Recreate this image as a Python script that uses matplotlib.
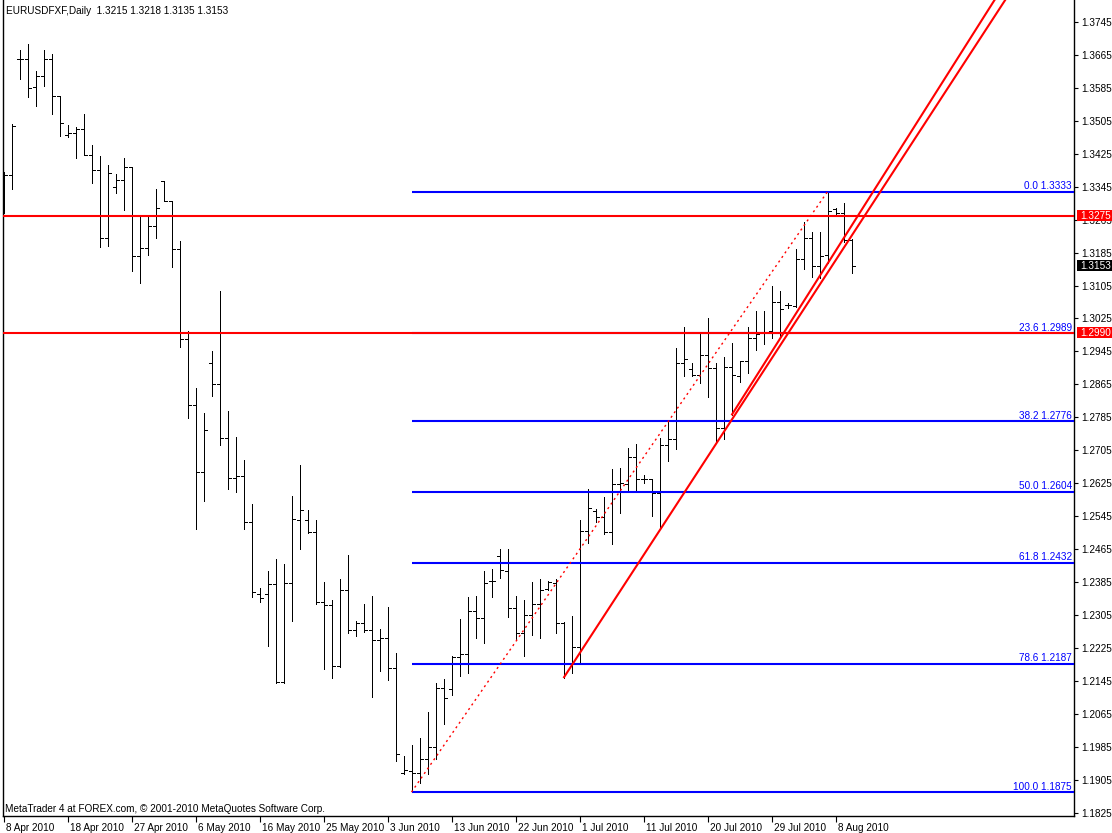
import numpy as np
import matplotlib.pyplot as plt
import matplotlib.transforms as mtransforms
from matplotlib.patches import Rectangle

plt.rcParams['font.family'] = ['Liberation Sans', 'DejaVu Sans']

# EURUSD daily bars, 8 Apr 2010 .. 10 Aug 2010 (Sunday sessions included)
opens = [1.3349, 1.3373, 1.3655, 1.3655, 1.3587, 1.3614, 1.3655, 1.3565, 1.3470, 1.3475,
         1.3485, 1.3422, 1.3385, 1.3220, 1.3344, 1.3361, 1.3393, 1.3176, 1.3196, 1.3249,
         1.3359, 1.3310, 1.3193, 1.2975, 1.2815, 1.2652, 1.2917, 1.2866, 1.2735, 1.2637,
         1.2642, 1.2531, 1.2356, 1.2356, 1.2380, 1.2142, 1.2383, 1.2535, 1.2535, 1.2506,
         1.2336, 1.2329, 1.2181, 1.2366, 1.2268, 1.2285, 1.2268, 1.2244, 1.2249, 1.2176,
         1.1921, 1.1926, 1.1921, 1.1955, 1.1984, 1.2128, 1.2125, 1.2203, 1.2210, 1.2315,
         1.2298, 1.2387, 1.2448, 1.2412, 1.2322, 1.2261, 1.2305, 1.2332, 1.2368, 1.2383,
         1.2285, 1.2186, 1.2227, 1.2509, 1.2557, 1.2543, 1.2506, 1.2623, 1.2623, 1.2688,
         1.2635, 1.2635, 1.2601, 1.2718, 1.2732, 1.2917, 1.2902, 1.2888, 1.2936, 1.2905,
         1.2759, 1.2907, 1.2885, 1.2922, 1.2977, 1.2990, 1.2994, 1.3065, 1.3058, 1.3055,
         1.3169, 1.3220, 1.3152, 1.3179, 1.3291, 1.3281, 1.3215]
highs = [1.3380, 1.3497, 1.3677, 1.3691, 1.3626, 1.3677, 1.3667, 1.3565, 1.3495, 1.3490,
         1.3521, 1.3446, 1.3419, 1.3397, 1.3376, 1.3414, 1.3393, 1.3274, 1.3271, 1.3339,
         1.3359, 1.3310, 1.3213, 1.2994, 1.2856, 1.2795, 1.2946, 1.3092, 1.2800, 1.2737,
         1.2681, 1.2574, 1.2370, 1.2412, 1.2441, 1.2429, 1.2594, 1.2669, 1.2560, 1.2535,
         1.2385, 1.2341, 1.2392, 1.2450, 1.2290, 1.2332, 1.2351, 1.2271, 1.2324, 1.2213,
         1.1962, 1.1989, 1.2006, 1.2069, 1.2140, 1.2149, 1.2205, 1.2295, 1.2349, 1.2351,
         1.2412, 1.2417, 1.2465, 1.2465, 1.2351, 1.2341, 1.2385, 1.2392, 1.2387, 1.2392,
         1.2288, 1.2302, 1.2535, 1.2611, 1.2562, 1.2591, 1.2659, 1.2662, 1.2710, 1.2720,
         1.2645, 1.2635, 1.2735, 1.2776, 1.2953, 1.3004, 1.2917, 1.2992, 1.3026, 1.2917,
         1.2931, 1.2965, 1.2922, 1.3004, 1.3043, 1.3043, 1.3104, 1.3092, 1.3062, 1.3193,
         1.3259, 1.3235, 1.3235, 1.3333, 1.3293, 1.3305, 1.3218]
lows = [1.3281, 1.3339, 1.3606, 1.3563, 1.3541, 1.3589, 1.3521, 1.3468, 1.3465, 1.3414,
        1.3422, 1.3354, 1.3198, 1.3201, 1.3329, 1.3288, 1.3140, 1.3111, 1.3179, 1.3220,
        1.3310, 1.3150, 1.2956, 1.2783, 1.2514, 1.2582, 1.2837, 1.2718, 1.2611, 1.2603,
        1.2514, 1.2349, 1.2336, 1.2230, 1.2140, 1.2140, 1.2290, 1.2465, 1.2504, 1.2332,
        1.2174, 1.2152, 1.2179, 1.2261, 1.2254, 1.2264, 1.2106, 1.2169, 1.2147, 1.1950,
        1.1919, 1.1875, 1.1897, 1.1919, 1.1955, 1.2040, 1.2111, 1.2157, 1.2164, 1.2249,
        1.2237, 1.2349, 1.2395, 1.2300, 1.2247, 1.2205, 1.2256, 1.2249, 1.2366, 1.2261,
        1.2152, 1.2164, 1.2188, 1.2480, 1.2531, 1.2501, 1.2477, 1.2552, 1.2606, 1.2606,
        1.2625, 1.2545, 1.2518, 1.2679, 1.2708, 1.2885, 1.2885, 1.2868, 1.2834, 1.2727,
        1.2732, 1.2790, 1.2871, 1.2892, 1.2948, 1.2963, 1.2977, 1.2977, 1.3050, 1.3053,
        1.3145, 1.3125, 1.3123, 1.3159, 1.3278, 1.3210, 1.3135]
closes = [1.3373, 1.3492, 1.3655, 1.3584, 1.3614, 1.3655, 1.3565, 1.3499, 1.3475, 1.3485,
          1.3422, 1.3385, 1.3220, 1.3378, 1.3361, 1.3393, 1.3176, 1.3196, 1.3249, 1.3293,
          1.3310, 1.3193, 1.2975, 1.2815, 1.2652, 1.2754, 1.2866, 1.2735, 1.2637, 1.2642,
          1.2531, 1.2361, 1.2346, 1.2380, 1.2142, 1.2383, 1.2538, 1.2560, 1.2506, 1.2336,
          1.2329, 1.2181, 1.2366, 1.2268, 1.2285, 1.2268, 1.2244, 1.2249, 1.2176, 1.1967,
          1.1928, 1.1921, 1.1955, 1.1984, 1.2128, 1.2103, 1.2203, 1.2210, 1.2315, 1.2298,
          1.2383, 1.2387, 1.2414, 1.2322, 1.2261, 1.2305, 1.2332, 1.2366, 1.2385, 1.2285,
          1.2186, 1.2227, 1.2509, 1.2565, 1.2543, 1.2506, 1.2623, 1.2625, 1.2688, 1.2635,
          1.2635, 1.2601, 1.2718, 1.2732, 1.2917, 1.2926, 1.2888, 1.2936, 1.2905, 1.2759,
          1.2907, 1.2888, 1.2922, 1.2977, 1.2987, 1.2990, 1.3065, 1.3048, 1.3058, 1.3169,
          1.3220, 1.3152, 1.3176, 1.3286, 1.3281, 1.3215, 1.3153]

date_ticks = [0, 8, 16, 24, 32, 40, 48, 56, 64, 72, 80, 88, 96, 104]
date_labels = ["8 Apr 2010", "18 Apr 2010", "27 Apr 2010", "6 May 2010", "16 May 2010",
               "25 May 2010", "3 Jun 2010", "13 Jun 2010", "22 Jun 2010", "1 Jul 2010",
               "11 Jul 2010", "20 Jul 2010", "29 Jul 2010", "8 Aug 2010"]
price_labels = ["1.1825", "1.1905", "1.1985", "1.2065", "1.2145", "1.2225", "1.2305",
                "1.2385", "1.2465", "1.2545", "1.2625", "1.2705", "1.2785", "1.2865",
                "1.2945", "1.3025", "1.3105", "1.3185", "1.3265", "1.3345", "1.3425",
                "1.3505", "1.3585", "1.3665", "1.3745"]

# fibonacci retracement: low bar 51 -> high bar 103
fib_low_bar, fib_high_bar = 51, 103
fib_pcts = ["0.0", "23.6", "38.2", "50.0", "61.8", "78.6", "100.0"]
fib_prices = [1.3333, 1.2989, 1.2776, 1.2604, 1.2432, 1.2187, 1.1875]

# support / resistance
hlines_red = [1.3275, 1.2990]

# trend lines (start bar, start price, slope per bar)
trend1 = (70, 1.2152, 0.002982)
trend2 = (91, 1.2790, 0.003067)

last_price = 1.3153

W, H = 1112, 833
fig = plt.figure(figsize=(W / 100, H / 100), dpi=100)
ax = fig.add_axes([3 / W, 17 / H, 1071 / W, 816 / H])
ax.set_xlim(-0.0625, 133.81)
ax.set_ylim(1.18169, 1.37984)
px = (1.37984 - 1.18169) / 816  # price per pixel

x = np.arange(len(opens))
ax.vlines(x, lows, highs, colors='black', lw=0.72, antialiased=False, zorder=2)
ax.hlines(opens, x - 0.375, x, colors='black', lw=0.72, antialiased=False, zorder=2)
ax.hlines(closes, x, x + 0.375, colors='black', lw=0.72, antialiased=False, zorder=2)

blend = mtransforms.blended_transform_factory(ax.transAxes, ax.transData)

for pct, val in zip(fib_pcts, fib_prices):
    ax.plot([fib_low_bar, 140], [val, val], color='#0000FF', lw=1.5,
            solid_capstyle='butt', zorder=3)
    ax.text(1 - 2 / 1071, val + 0.5 * px, pct + " " + f"{val:.4f}", transform=blend,
            ha='right', va='bottom', color='#0000FF', fontsize=7.2, zorder=6)

ax.plot([fib_low_bar, fib_high_bar], [fib_prices[-1], fib_prices[0]], color='#FF0000',
        lw=1.0, linestyle=(0, (1.5, 2.5)), zorder=4)

for val in hlines_red:
    ax.axhline(val, color='#FF0000', lw=1.5, zorder=4)

for b0, p0, k in (trend1, trend2):
    ax.plot([b0, 140], [p0, p0 + (140 - b0) * k], color='#FF0000', lw=1.5,
            solid_capstyle='butt', zorder=4)

# axes styling
ax.spines['top'].set_visible(False)
for s in ['left', 'right', 'bottom']:
    ax.spines[s].set_linewidth(1.0)
    ax.spines[s].set_color('black')

ax.yaxis.tick_right()
ax.set_yticks([float(v) for v in price_labels])
ax.set_yticklabels(price_labels)
ax.tick_params(axis='y', length=3, width=0.8, pad=2.5, labelsize=7.2, direction='out')

ax.set_xticks(date_ticks)
ax.set_xticklabels(date_labels, ha='left')
ax.tick_params(axis='x', length=4, width=0.8, pad=1.0, labelsize=7.2, direction='out')
offset = mtransforms.ScaledTranslation(2 / 100, 0, fig.dpi_scale_trans)
for lab in ax.get_xticklabels():
    lab.set_transform(lab.get_transform() + offset)

# price boxes on the right scale
for val, col in [(1.3275, '#FF0000'), (1.2990, '#FF0000'), (last_price, 'black')]:
    ax.add_patch(Rectangle((1 + 2.5 / 1071, val - 5.5 * px), 35 / 1071, 11 * px,
                           transform=blend, facecolor=col, edgecolor='none',
                           clip_on=False, zorder=10))
    ax.text(1 + 6 / 1071, val, f"{val:.4f}", transform=blend, color='white',
            fontsize=7.2, va='center', ha='left', clip_on=False, zorder=11)

fig.text(6 / W, 1 - 10.5 / H, "EURUSDFXF,Daily  1.3215 1.3218 1.3135 1.3153",
         fontsize=7.2, va='center', ha='left')
fig.text(5 / W, 1 - 808.5 / H,
         "MetaTrader 4 at FOREX.com, \u00a9 2001-2010 MetaQuotes Software Corp.",
         fontsize=7.2, va='center', ha='left')

fig.savefig("out.png", dpi=100)
